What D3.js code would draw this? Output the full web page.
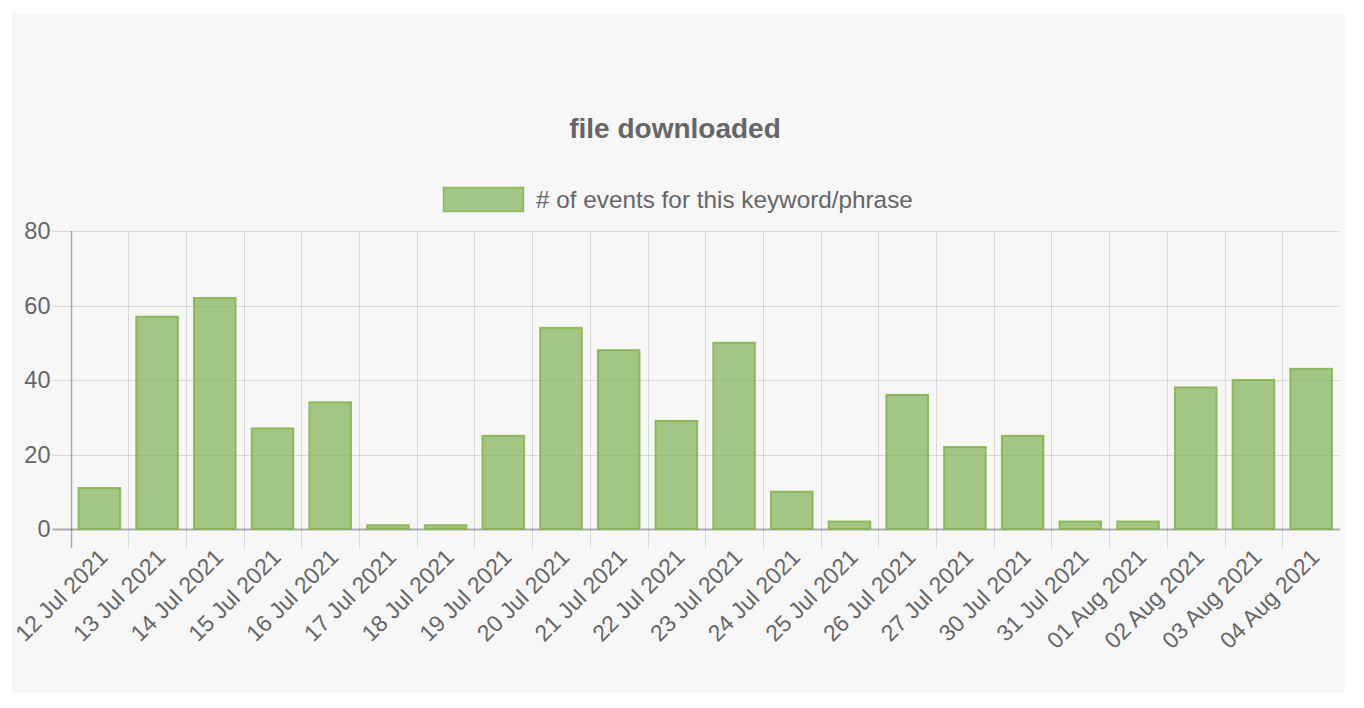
<!DOCTYPE html>
<html>
<head>
<meta charset="utf-8">
<script src="https://cdn.jsdelivr.net/npm/d3@7"></script>
<style>
  body { margin: 0; background: #fff; }
  svg { display: block; font-family: "Liberation Sans", Arial, Helvetica, sans-serif; }
</style>
</head>
<body>
<svg id="chart" width="1364" height="708"></svg>
<script>
// data
const dates = ["12 Jul 2021", "13 Jul 2021", "14 Jul 2021", "15 Jul 2021", "16 Jul 2021",
  "17 Jul 2021", "18 Jul 2021", "19 Jul 2021", "20 Jul 2021", "21 Jul 2021", "22 Jul 2021",
  "23 Jul 2021", "24 Jul 2021", "25 Jul 2021", "26 Jul 2021", "27 Jul 2021", "30 Jul 2021",
  "31 Jul 2021", "01 Aug 2021", "02 Aug 2021", "03 Aug 2021", "04 Aug 2021"];
const events = [11, 57, 62, 27, 34, 1, 1, 25, 54, 48, 29, 50, 10, 2, 36, 22, 25, 2, 2, 38, 40, 43];
const yTicks = [0, 20, 40, 60, 80];
const title = "file downloaded";
const seriesName = "# of events for this keyword/phrase";

const svg = d3.select("#chart");
const textColor = "#666";
const gridColor = "rgba(0,0,0,0.12)";
const axisColor = "rgba(0,0,0,0.3)";
const fill = "rgba(128,176,82,0.7)";
const stroke = "rgba(134,180,80,0.9)";

// panel background
svg.append("rect")
  .attr("x", 12).attr("y", 14)
  .attr("width", 1333).attr("height", 679)
  .attr("fill", "#f7f7f7");

const plot = { left: 70.5, right: 1340, top: 231, bottom: 529 };

const x = d3.scaleBand()
  .domain(dates)
  .range([plot.left, plot.right]);

const y = d3.scaleLinear()
  .domain([0, 80])
  .range([plot.bottom, plot.top]);

// title
svg.append("text")
  .attr("x", 675).attr("y", 138)
  .attr("text-anchor", "middle")
  .attr("font-size", 28)
  .attr("font-weight", "bold")
  .attr("fill", textColor)
  .text(title);

// legend
const legend = svg.append("g");
legend.append("rect")
  .attr("x", 443.5).attr("y", 187.5)
  .attr("width", 80).attr("height", 24)
  .attr("fill", fill)
  .attr("stroke", stroke)
  .attr("stroke-width", 1.5);
legend.append("text")
  .attr("x", 536).attr("y", 207.5)
  .attr("font-size", 24.3)
  .attr("fill", textColor)
  .text(seriesName);

// horizontal grid + y tick marks
const yAxis = svg.append("g");
yAxis.selectAll("line.grid")
  .data(yTicks)
  .join("line")
  .attr("class", "grid")
  .attr("x1", plot.left - 18).attr("x2", plot.right)
  .attr("y1", d => Math.round(y(d)) + 0.5)
  .attr("y2", d => Math.round(y(d)) + 0.5)
  .attr("stroke", d => d === 0 ? axisColor : gridColor)
  .attr("stroke-width", d => d === 0 ? 2 : 1);
yAxis.selectAll("text")
  .data(yTicks)
  .join("text")
  .attr("x", plot.left - 20)
  .attr("y", d => y(d))
  .attr("dy", "0.36em")
  .attr("text-anchor", "end")
  .attr("font-size", 23.5)
  .attr("fill", textColor)
  .text(d => d);

// vertical grid lines at category boundaries
const bounds = dates.map(d => x(d));
svg.append("g").selectAll("line")
  .data(bounds)
  .join("line")
  .attr("x1", d => Math.round(d) + 0.5)
  .attr("x2", d => Math.round(d) + 0.5)
  .attr("y1", plot.top)
  .attr("y2", plot.bottom + 19)
  .attr("stroke", (d, i) => i === 0 ? axisColor : gridColor)
  .attr("stroke-width", (d, i) => i === 0 ? 1.5 : 1);

// bars
const bw = x.bandwidth() * 0.72;
svg.append("g").selectAll("rect")
  .data(events)
  .join("rect")
  .attr("x", (d, i) => x(dates[i]) + (x.bandwidth() - bw) / 2)
  .attr("y", d => y(d))
  .attr("width", bw)
  .attr("height", d => y(0) - y(d))
  .attr("fill", fill)
  .attr("stroke", stroke)
  .attr("stroke-width", 2);

// rotated x labels, end anchored at category centre
svg.append("g").selectAll("text")
  .data(dates)
  .join("text")
  .attr("transform", d => `translate(${x(d) + x.bandwidth() / 2 - 2},${plot.bottom + 18}) rotate(-45)`)
  .attr("text-anchor", "end")
  .attr("dy", "0.72em")
  .attr("font-size", 23)
  .attr("fill", textColor)
  .text(d => d);
</script>
</body>
</html>
